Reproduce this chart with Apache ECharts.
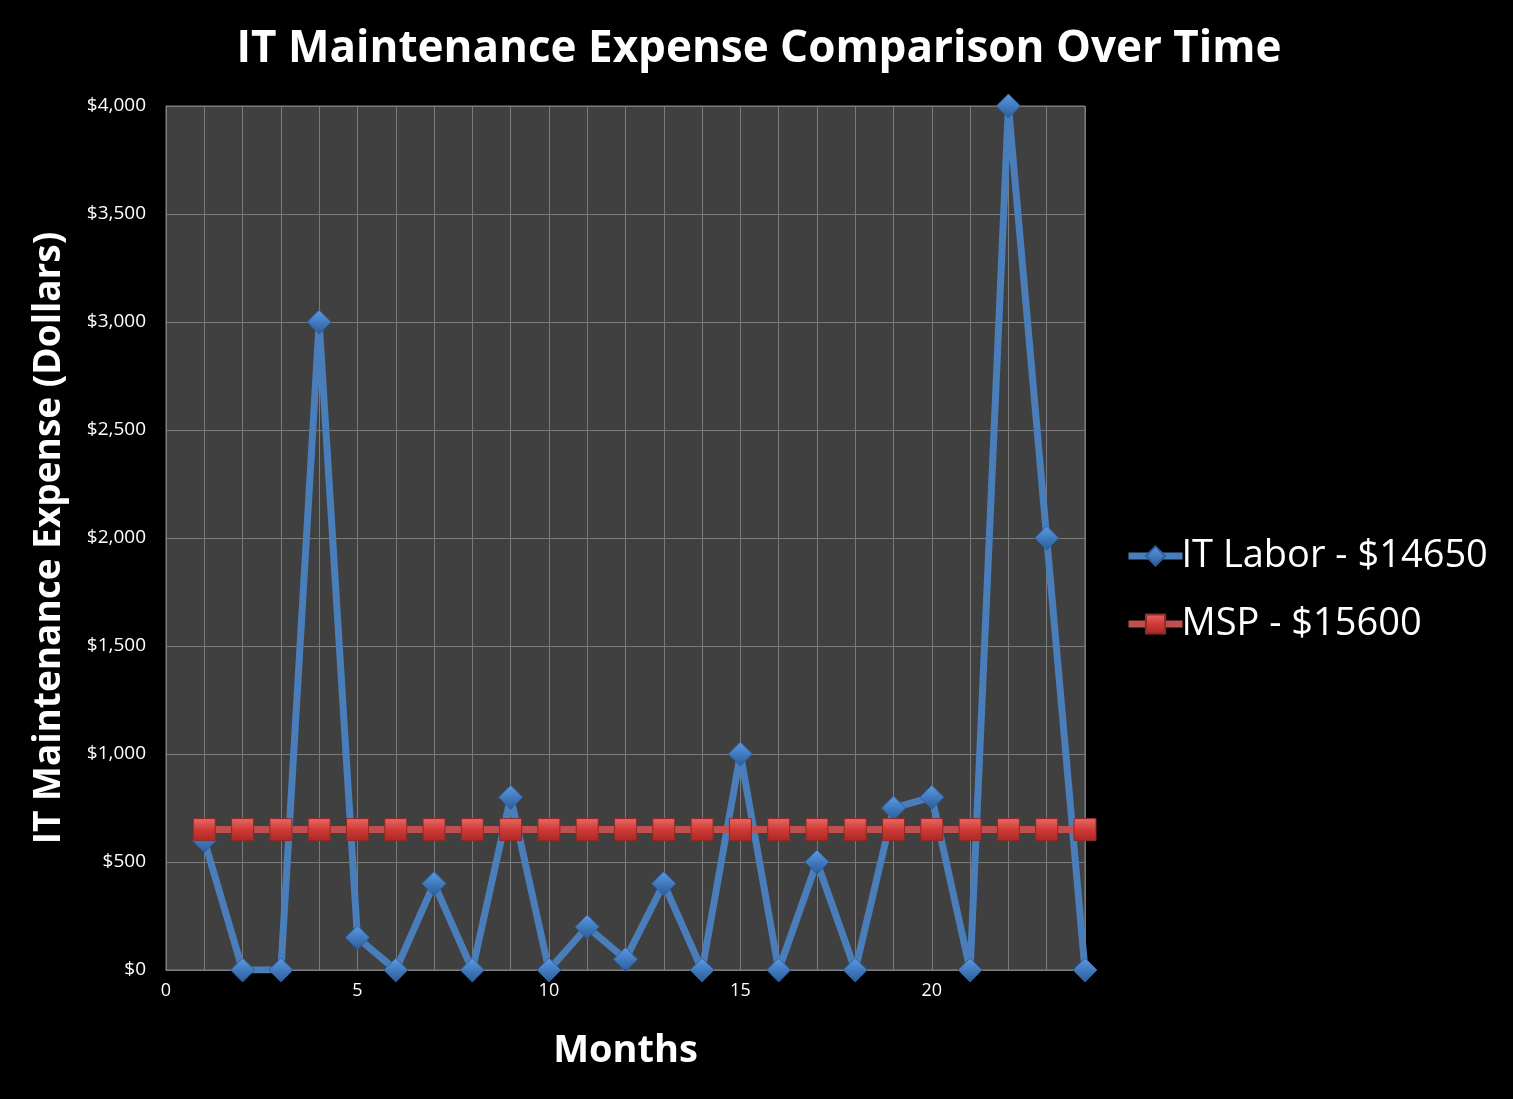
<!DOCTYPE html>
<html>
<head>
<meta charset="utf-8">
<title>IT Maintenance Expense Comparison Over Time</title>
<script src="https://cdn.jsdelivr.net/npm/echarts@6/dist/echarts.min.js"></script>
<style>
  html, body { margin: 0; padding: 0; background: #000; }
  #chart { width: 1513px; height: 1099px; }
</style>
</head>
<body>
<div id="chart"></div>
<script>
// 数据
var months = [1, 2, 3, 4, 5, 6, 7, 8, 9, 10, 11, 12, 13, 14, 15, 16, 17, 18, 19, 20, 21, 22, 23, 24];
var itLabor = [600, 0, 0, 3000, 150, 0, 400, 0, 800, 0, 200, 50, 400, 0, 1000, 0, 500, 0, 750, 800, 0, 4000, 2000, 0];
var msp = [650, 650, 650, 650, 650, 650, 650, 650, 650, 650, 650, 650, 650, 650, 650, 650, 650, 650, 650, 650, 650, 650, 650, 650];
var seriesNames = ['IT Labor - $14650', 'MSP - $15600'];

function pairs(vals) {
  return months.map(function (m, i) { return [m, vals[i]]; });
}

var font = '"Open Sans", "Liberation Sans", sans-serif';
var myChart = echarts.init(document.getElementById('chart'));
var option = {
  backgroundColor: '#000',
  animation: false,
  title: {
    text: 'IT Maintenance Expense Comparison Over Time',
    left: 754,
    textAlign: 'center',
    top: 22,
    textStyle: { color: '#fff', fontSize: 44, fontWeight: 'bold', fontFamily: font }
  },
  legend: {
    orient: 'vertical',
    left: 1120,
    top: 532,
    itemWidth: 54,
    itemHeight: 24,
    itemGap: 30,
    data: seriesNames,
    lineStyle: { width: 7 },
    textStyle: { color: '#fff', fontSize: 38, fontFamily: font, padding: [0, 0, 0, -6] }
  },
  grid: {
    left: 166,
    right: 428,
    top: 106,
    bottom: 129,
    show: true,
    backgroundColor: '#404040',
    borderColor: '#808080',
    borderWidth: 1
  },
  xAxis: {
    type: 'value',
    min: 0,
    max: 24,
    interval: 1,
    name: 'Months',
    nameLocation: 'middle',
    nameGap: 62,
    nameTextStyle: { color: '#fff', fontSize: 38, fontWeight: 'bold', fontFamily: font },
    axisLine: { lineStyle: { color: '#808080' } },
    axisTick: { show: false },
    axisLabel: {
      color: '#fff',
      fontSize: 18,
      fontFamily: font,
      margin: 12,
      showMaxLabel: false,
      formatter: function (v) { return v % 5 === 0 ? String(v) : ''; }
    },
    splitLine: { show: true, lineStyle: { color: '#7a7a7a', width: 1 } }
  },
  yAxis: {
    type: 'value',
    min: 0,
    max: 4000,
    interval: 500,
    name: 'IT Maintenance Expense (Dollars)',
    nameLocation: 'middle',
    nameGap: 98,
    nameTextStyle: { color: '#fff', fontSize: 37, fontWeight: 'bold', fontFamily: font },
    axisLine: { show: true, lineStyle: { color: '#808080' } },
    axisTick: { show: false },
    axisLabel: {
      color: '#fff',
      fontSize: 19,
      fontFamily: font,
      margin: 20,
      formatter: function (v) { return '$' + v.toLocaleString('en-US'); }
    },
    splitLine: { show: true, lineStyle: { color: '#7a7a7a', width: 1 } }
  },
  series: [
    {
      name: seriesNames[0],
      type: 'line',
      data: pairs(itLabor),
      symbol: 'diamond',
      symbolSize: [24, 24],
      lineStyle: { color: '#4a7ebb', width: 7 },
      itemStyle: {
        color: new echarts.graphic.LinearGradient(0, 0, 0, 1, [
          { offset: 0, color: '#5b9be6' },
          { offset: 1, color: '#2a5b99' }
        ]),
        borderColor: '#2f5f9a',
        borderWidth: 1
      },
      z: 2
    },
    {
      name: seriesNames[1],
      type: 'line',
      data: pairs(msp),
      symbol: 'rect',
      symbolSize: [22, 22],
      lineStyle: { color: '#c0504d', width: 7 },
      itemStyle: {
        color: new echarts.graphic.LinearGradient(0, 0, 0, 1, [
          { offset: 0, color: '#e86a66' },
          { offset: 0.5, color: '#d03a36' },
          { offset: 1, color: '#a82824' }
        ]),
        borderColor: '#8e2a27',
        borderWidth: 1
      },
      z: 3
    }
  ]
};
myChart.setOption(option);
window.onresize = myChart.resize;
</script>
</body>
</html>
